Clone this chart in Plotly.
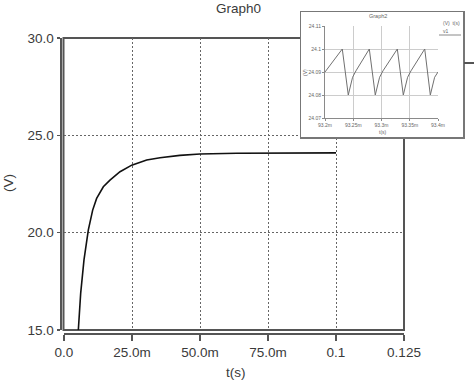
import plotly.graph_objects as go

# ---------------- data ----------------
main_t = [0.00527, 0.00613, 0.00735, 0.00895, 0.01054, 0.0120, 0.01446, 0.0169,
          0.0206, 0.0249, 0.0304, 0.0353, 0.0426, 0.050, 0.0635, 0.080, 0.100]
main_v = [15.0, 16.88, 18.6, 20.14, 21.16, 21.76, 22.36, 22.70,
          23.13, 23.47, 23.73, 23.85, 23.97, 24.04, 24.08, 24.09, 24.10]

x_tickvals = [0.0, 0.025, 0.05, 0.075, 0.1, 0.125]
x_ticktext = ["0.0", "25.0m", "50.0m", "75.0m", "0.1", "0.125"]
y_tickvals = [15.0, 20.0, 25.0, 30.0]
y_ticktext = ["15.0", "20.0", "25.0", "30.0"]

inset_t_ms = [93.2000, 93.2306, 93.2412, 93.2453, 93.2488, 93.2548, 93.2784,
              93.2890, 93.2931, 93.2966, 93.3026, 93.3280, 93.3386, 93.3427,
              93.3462, 93.3522, 93.3765, 93.3864, 93.3905, 93.3940, 93.4000]
inset_v = [24.090, 24.100, 24.080, 24.0845, 24.0877, 24.0905, 24.100,
           24.080, 24.0845, 24.0877, 24.0905, 24.100, 24.080, 24.0845,
           24.0877, 24.0905, 24.100, 24.080, 24.0845, 24.0877, 24.0900]

inset_x_tickvals = [93.2, 93.25, 93.3, 93.35, 93.4]
inset_x_ticktext = ["93.2m", "93.25m", "93.3m", "93.35m", "93.4m"]
inset_y_tickvals = [24.07, 24.08, 24.09, 24.10, 24.11]
inset_y_ticktext = ["24.07", "24.08", "24.09", "24.1", "24.11"]

# ---------------- layout helpers ----------------
W, H = 474, 381
def fx(px):
    return px / W
def fy(py):
    return 1 - py / H

FONT = "Liberation Sans, Arial, sans-serif"
TXT = "#3a3a3a"
LINE = "#555555"

fig = go.Figure()
fig.add_trace(go.Scatter(x=main_t, y=main_v, mode="lines",
                         line=dict(color="#111111", width=1.6),
                         xaxis="x", yaxis="y", hoverinfo="skip"))
fig.add_trace(go.Scatter(x=[], y=[], xaxis="x2", yaxis="y2", hoverinfo="skip"))
fig.add_trace(go.Scatter(x=inset_t_ms, y=inset_v, mode="lines",
                         line=dict(color="#707070", width=1),
                         xaxis="x3", yaxis="y3", hoverinfo="skip"))

grid_common = dict(showgrid=True, gridcolor="#666666", gridwidth=1, griddash="2px,2px",
                   zeroline=False, showline=True, linecolor=LINE, linewidth=2,
                   ticks="outside", tickcolor=LINE, tickwidth=1.5, automargin=False,
                   tickfont=dict(family=FONT, size=13.5, color=TXT))

fig.update_layout(
    width=W, height=H, autosize=False,
    margin=dict(l=0, r=0, t=0, b=0, pad=0),
    paper_bgcolor="white", plot_bgcolor="white",
    showlegend=False,
    xaxis=dict(domain=[fx(64), fx(404)], range=[0, 0.125], anchor="free", position=fy(334),
               tickmode="array", tickvals=x_tickvals, ticktext=x_ticktext, ticklen=6,
               **grid_common),
    yaxis=dict(domain=[fy(330), fy(38)], range=[15, 30], anchor="free", position=fx(60.5),
               tickmode="array", tickvals=y_tickvals, ticktext=y_ticktext, ticklen=3,
               **grid_common),
    xaxis2=dict(domain=[fx(301), fx(463)], range=[0, 1], anchor="y2", automargin=False,
                showgrid=False, zeroline=False, showticklabels=False, ticks="",
                showline=True, mirror=True, linecolor="#777777", linewidth=1.5, fixedrange=True),
    yaxis2=dict(domain=[fy(137), fy(12)], range=[0, 1], anchor="x2", automargin=False,
                showgrid=False, zeroline=False, showticklabels=False, ticks="",
                showline=True, mirror=True, linecolor="#777777", linewidth=1.5, fixedrange=True),
    xaxis3=dict(domain=[fx(325), fx(438)], range=[93.2, 93.4], anchor="y3", automargin=False,
                tickmode="array", tickvals=inset_x_tickvals, ticktext=inset_x_ticktext,
                showgrid=True, gridcolor="#cccccc", gridwidth=1, zeroline=False,
                showline=True, linecolor="#8a8a8a", linewidth=1,
                ticks="outside", ticklen=2, tickcolor="#8a8a8a",
                tickfont=dict(family=FONT, size=5, color="#666666")),
    yaxis3=dict(domain=[fy(118), fy(26)], range=[24.07, 24.11], anchor="x3", automargin=False,
                tickmode="array", tickvals=inset_y_tickvals, ticktext=inset_y_ticktext,
                showgrid=True, gridcolor="#cccccc", gridwidth=1, zeroline=False,
                showline=True, linecolor="#8a8a8a", linewidth=1,
                ticks="outside", ticklen=2, tickcolor="#8a8a8a",
                tickfont=dict(family=FONT, size=5, color="#666666")),
)

shapes = [
    # main frame
    dict(type="rect", xref="paper", yref="paper", x0=fx(63.5), x1=fx(404), y0=fy(330), y1=fy(38),
         line=dict(color=LINE, width=2), layer="below"),
    # inset legend underline
    dict(type="line", xref="paper", yref="paper", x0=fx(439), x1=fx(461), y0=fy(35), y1=fy(35),
         line=dict(color="#8a8a8a", width=1), layer="above"),
    # partially hidden main legend box edge
    dict(type="line", xref="paper", yref="paper", x0=fx(464), x1=fx(474), y0=fy(63), y1=fy(63),
         line=dict(color=LINE, width=2), layer="above"),
]
fig.update_layout(shapes=shapes)

def ann(text, x, y, size, color=TXT, xanchor="center", yanchor="middle", angle=0):
    return dict(text=text, x=fx(x), y=fy(y), xref="paper", yref="paper", showarrow=False,
                xanchor=xanchor, yanchor=yanchor, textangle=angle,
                font=dict(family=FONT, size=size, color=color))

fig.update_layout(annotations=[
    ann("Graph0", 238, 8, 13.5),
    ann("(V)", 8, 183, 13.5, angle=-90),
    ann("t(s)", 236, 372, 13.5),
    ann("Graph2", 378, 16, 5.5, color="#666666"),
    ann("(V)", 305, 73, 5, color="#666666", angle=-90),
    ann("t(s)", 383, 132, 5, color="#666666"),
    ann("(V)  t(s)", 441, 23, 5, color="#666666", xanchor="left"),
    ann("v1", 441, 31, 5, color="#666666", xanchor="left"),
])

fig.write_html("out.html", config={"displayModeBar": False, "staticPlot": True},
               post_script="document.body.style.margin='0px';document.body.style.overflow='hidden';")
